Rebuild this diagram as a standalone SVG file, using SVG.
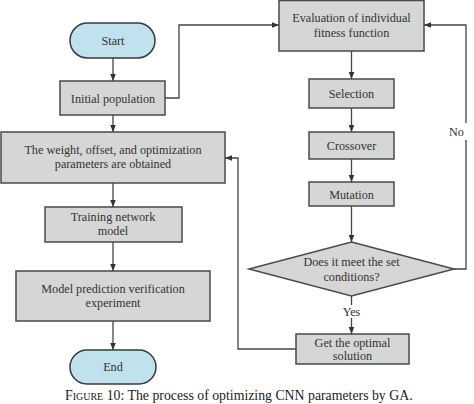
<svg xmlns="http://www.w3.org/2000/svg" width="474" height="404" viewBox="0 0 474 404">
<style>
.box{fill:#d6d6d6;stroke:#4a4a4a;stroke-width:1.5}
.term{fill:#bfe2ee;stroke:#3a3a3a;stroke-width:1.5}
.t{font-family:"Liberation Serif",serif;font-size:12.2px;fill:#333;text-anchor:middle}
.ln{fill:none;stroke:#444;stroke-width:1.3}
.cap{font-family:"Liberation Serif",serif;font-size:13.8px;fill:#222}
</style>
<defs>
<marker id="ah" viewBox="0 0 10 10" refX="10" refY="5" markerWidth="7" markerHeight="7" orient="auto" markerUnits="userSpaceOnUse">
<path d="M0,1 L10,5 L0,9 z" fill="#333"/>
</marker>
</defs>
<rect width="474" height="404" fill="#fff"/>
<g id="connectors">
<path class="ln" d="M113,58 V81" marker-end="url(#ah)"/>
<path class="ln" d="M113,115 V132" marker-end="url(#ah)"/>
<path class="ln" d="M113,183 V207" marker-end="url(#ah)"/>
<path class="ln" d="M113,242 V271" marker-end="url(#ah)"/>
<path class="ln" d="M113,321 V350" marker-end="url(#ah)"/>
<path class="ln" d="M165,98 H179 V25 H279" marker-end="url(#ah)"/>
<path class="ln" d="M351.5,51 V79" marker-end="url(#ah)"/>
<path class="ln" d="M351.5,108 V132" marker-end="url(#ah)"/>
<path class="ln" d="M351.5,159 V182" marker-end="url(#ah)"/>
<path class="ln" d="M351.5,206 V242" marker-end="url(#ah)"/>
<path class="ln" d="M351.5,296 V305"/>
<path class="ln" d="M351.5,318 V334" marker-end="url(#ah)"/>
<path class="ln" d="M454,269 H466 V25 H424" marker-end="url(#ah)"/>
<path class="ln" d="M296,349 H238 V158 H225" marker-end="url(#ah)"/>
<rect x="450" y="123" width="24" height="17" fill="#fff"/>
<text class="t" x="449" y="136" style="text-anchor:start">No</text>
<text class="t" x="351.5" y="316">Yes</text>
</g>
<g id="start">
<rect class="term" x="70" y="23" width="85" height="35" rx="17.5"/>
<text class="t" x="113" y="44.5">Start</text>
</g>
<g id="initial">
<rect class="box" x="60" y="81" width="105" height="34"/>
<text class="t" x="113" y="102.5">Initial population</text>
</g>
<g id="weights">
<rect class="box" x="1" y="132" width="224" height="51"/>
<text class="t" x="113" y="154">The weight, offset, and optimization</text>
<text class="t" x="113" y="168">parameters are obtained</text>
</g>
<g id="training">
<rect class="box" x="45" y="207" width="137" height="35"/>
<text class="t" x="113" y="221">Training network</text>
<text class="t" x="113" y="235">model</text>
</g>
<g id="model">
<rect class="box" x="16" y="271" width="194" height="50"/>
<text class="t" x="113" y="293">Model prediction verification</text>
<text class="t" x="113" y="307">experiment</text>
</g>
<g id="end">
<rect class="term" x="70" y="350" width="86" height="34" rx="17"/>
<text class="t" x="113" y="371">End</text>
</g>
<g id="evaluation">
<rect class="box" x="279" y="0.5" width="145" height="50.5"/>
<text class="t" x="351.5" y="22">Evaluation of individual</text>
<text class="t" x="351.5" y="37">fitness function</text>
</g>
<g id="selection">
<rect class="box" x="309" y="79" width="85" height="29"/>
<text class="t" x="351.5" y="97.5">Selection</text>
</g>
<g id="crossover">
<rect class="box" x="309" y="132" width="85" height="27"/>
<text class="t" x="351.5" y="150">Crossover</text>
</g>
<g id="mutation">
<rect class="box" x="309" y="182" width="85" height="24"/>
<text class="t" x="351.5" y="198.5">Mutation</text>
</g>
<g id="decision">
<polygon class="box" points="351.5,242 454,269 351.5,296 249,269"/>
<text class="t" x="351.5" y="266">Does it meet the set</text>
<text class="t" x="351.5" y="281">conditions?</text>
</g>
<g id="optimal">
<rect class="box" x="296" y="334" width="113" height="30"/>
<text class="t" x="352.5" y="346.5">Get the optimal</text>
<text class="t" x="352.5" y="360">solution</text>
</g>
<text class="cap" x="65" y="400"><tspan style="font-variant:small-caps">Figure</tspan> 10: The process of optimizing CNN parameters by GA.</text>
</svg>
